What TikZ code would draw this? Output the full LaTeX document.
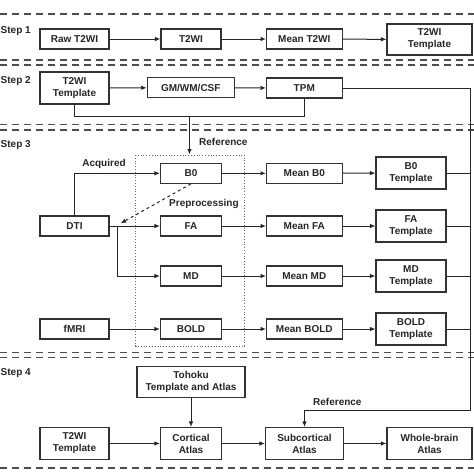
\documentclass[tikz,border=0pt]{standalone}
\usepackage{fontspec}
\setmainfont{Liberation Sans}
\usetikzlibrary{arrows.meta}
\begin{document}
\begin{tikzpicture}[x=1pt,y=-1pt,
  font=\fontsize{10}{12}\selectfont\bfseries,
  box/.style={draw=black!80, line width=1.1pt, inner sep=0pt, align=center, text=black!85},
  conn/.style={draw=black!85, line width=1pt},
  arr/.style={conn, -{Latex[length=5.5pt,width=4.5pt]}},
  sep/.style={draw=black!70, line width=1.2pt, dash pattern=on 7pt off 5pt},
  lbl/.style={text=black!85, inner sep=0pt}
]
\useasboundingbox (0,0) rectangle (474,474);
% separators
\foreach \yy in {14,60,65,124.3,130,352.5,357.5,468}{
  \draw[sep] (0,\yy) -- (474,\yy);
}
% step labels
\node[lbl, anchor=west] (s1) at (0.5,31) {Step 1};
\node[lbl, anchor=west] (s2) at (0.5,81) {Step 2};
\node[lbl, anchor=west] (s3) at (0.5,145) {Step 3};
\node[lbl, anchor=west] (s4) at (0.5,373) {Step 4};
% dotted preprocessing box
\draw[black!60, line width=0.8pt, dotted] (135.7,155) rectangle (244.3,346);
% Step 1
\node[box, minimum width=69pt, minimum height=20pt] (raw) at (74.5,39) {Raw T2WI};
\node[box, minimum width=60pt, minimum height=20pt] (t2wi) at (191,39) {T2WI};
\node[box, minimum width=75.5pt, minimum height=20pt] (mt2) at (304.3,39) {Mean T2WI};
\node[box, minimum width=85pt, minimum height=31pt] (tpla) at (429.5,39.5) {T2WI\\Template};
% Step 2
\node[box, minimum width=69pt, minimum height=32pt] (tplb) at (74.5,88) {T2WI\\Template};
\node[box, minimum width=87pt, minimum height=20pt] (gm) at (190.8,87.7) {GM/WM/CSF};
\node[box, minimum width=75.5pt, minimum height=20pt] (tpm) at (304.3,88) {TPM};
% Step 3
\node[box, minimum width=61pt, minimum height=20pt] (b0) at (191,173.3) {B0};
\node[box, minimum width=61pt, minimum height=20pt] (fa) at (191,226) {FA};
\node[box, minimum width=61pt, minimum height=20pt] (md) at (191,276) {MD};
\node[box, minimum width=61pt, minimum height=20pt] (bold) at (191,329) {BOLD};
\node[box, minimum width=69pt, minimum height=20pt] (dti) at (74.5,226) {DTI};
\node[box, minimum width=69pt, minimum height=20pt] (fmri) at (74.5,329) {fMRI};
\node[box, minimum width=75.5pt, minimum height=20pt] (mb0) at (304.3,173.3) {Mean B0};
\node[box, minimum width=75.5pt, minimum height=20pt] (mfa) at (304.3,226) {Mean FA};
\node[box, minimum width=75.5pt, minimum height=20pt] (mmd) at (304.3,276) {Mean MD};
\node[box, minimum width=75.5pt, minimum height=20pt] (mbold) at (304.3,329) {Mean BOLD};
\node[box, minimum width=70pt, minimum height=32pt] (tb0) at (411,173) {B0\\Template};
\node[box, minimum width=70pt, minimum height=32pt] (tfa) at (411,226) {FA\\Template};
\node[box, minimum width=70pt, minimum height=32pt] (tmd) at (411,276) {MD\\Template};
\node[box, minimum width=70pt, minimum height=32pt] (tbold) at (411,329) {BOLD\\Template};
% Step 4
\node[box, minimum width=108pt, minimum height=31pt] (toh) at (191,382) {Tohoku\\Template and Atlas};
\node[box, minimum width=69pt, minimum height=32pt] (tplc) at (74.5,443.5) {T2WI\\Template};
\node[box, minimum width=61pt, minimum height=32pt] (cort) at (191,443.5) {Cortical\\Atlas};
\node[box, minimum width=78pt, minimum height=32pt] (sub) at (304.5,443.5) {Subcortical\\Atlas};
\node[box, minimum width=85pt, minimum height=32pt] (whole) at (429.5,443.5) {Whole-brain\\Atlas};
% labels
\node[lbl, anchor=west] (ref1) at (199,141.7) {Reference};
\node[lbl, anchor=west] (ref2) at (313,402) {Reference};
\node[lbl] (acq) at (104,164) {Acquired};
\node[lbl, anchor=west] (pre) at (169,204) {Preprocessing};
% coordinates
\coordinate (jl) at (189.5,116.7);
\coordinate (jtop) at (189.5,154.5);
\coordinate (rc1) at (470.5,88);
\coordinate (rc2) at (470.5,410);
\coordinate (br) at (117.3,226);
\coordinate (dt) at (120.7,223.3);
% step 1 connectors
\draw[arr] (raw) -- (t2wi);
\draw[arr] (t2wi) -- (mt2);
\draw[arr] (mt2) -- (tpla);
% step 2 connectors
\draw[arr] (tplb) -- (gm);
\draw[arr] (gm) -- (tpm);
\draw[conn] (tplb.south) |- (jl) -| (tpm.south);
\draw[arr] (jl) -- (jtop);
\draw[arr] (tpm.east) -- (rc1) -- (rc2) -| (sub.north);
% step 3 connectors
\draw[arr] (dti.north) |- (b0.west);
\draw[arr] (dti) -- (fa);
\draw[arr] (br) |- (md.west);
\draw[arr, dashed] (b0.south) -- (dt);
\draw[arr] (fmri) -- (bold);
\draw[arr] (b0) -- (mb0);
\draw[arr] (fa) -- (mfa);
\draw[arr] (md) -- (mmd);
\draw[arr] (bold) -- (mbold);
\draw[arr] (mb0) -- (tb0);
\draw[arr] (mfa) -- (tfa);
\draw[arr] (mmd) -- (tmd);
\draw[arr] (mbold) -- (tbold);
\draw[conn] (tb0.east) -- (tb0.east -| rc1);
\draw[conn] (tfa.east) -- (tfa.east -| rc1);
\draw[conn] (tmd.east) -- (tmd.east -| rc1);
\draw[conn] (tbold.east) -- (tbold.east -| rc1);
% step 4 connectors
\draw[arr] (toh) -- (cort);
\draw[arr] (tplc) -- (cort);
\draw[arr] (cort) -- (sub);
\draw[arr] (sub) -- (whole);
\end{tikzpicture}
\end{document}
